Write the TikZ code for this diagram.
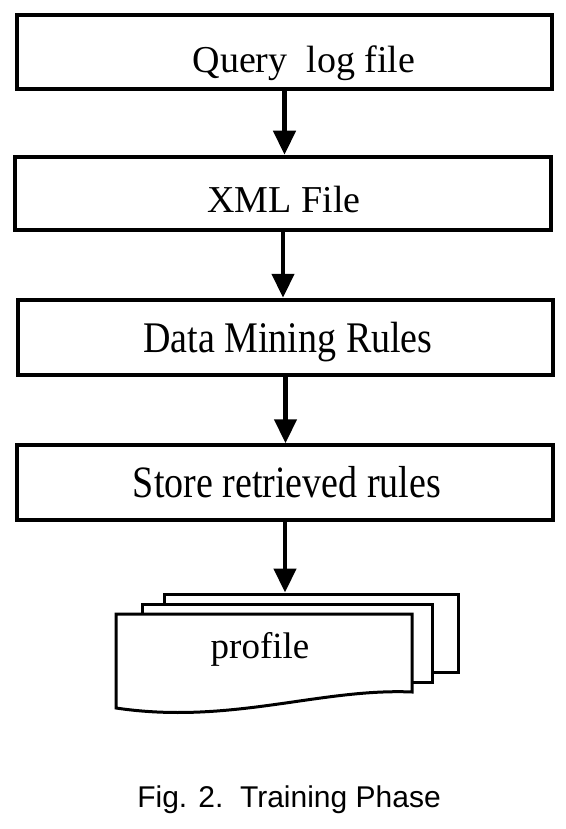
\documentclass[tikz,border=0pt]{standalone}
\usepackage{graphicx}
\usepackage{fontspec}
\setmainfont{Liberation Serif}
\newfontfamily\capfont{Liberation Sans}
\usetikzlibrary{arrows.meta}
\tikzset{
  stepbox/.style={draw=black, line width=4.5pt, fill=white, rectangle, inner sep=0pt},
  boxtext/.style={anchor=base, inner sep=0pt, font=\fontsize{38}{40}\selectfont},
  doc/.style={draw=black, line width=3pt, fill=white, rectangle, inner sep=0pt},
  arr/.style={line width=4.5pt, -{Triangle[width=22pt,length=24pt]}}
}
\begin{document}
\begin{tikzpicture}[x=1pt,y=-1pt]
\useasboundingbox[fill=white] (0,0) rectangle (565,829);
% process boxes
\node[stepbox, minimum width=535pt, minimum height=74pt] (b1) at (284.5,52) {};
\node[stepbox, minimum width=536pt, minimum height=73pt] (b2) at (283,193.5) {};
\node[stepbox, minimum width=535pt, minimum height=75pt] (b3) at (285.5,337.5) {};
\node[stepbox, line width=3.5pt, minimum width=536pt, minimum height=75pt] (b4) at (285,482.5) {};
\node[boxtext] (t1) at (304,73) {Query~ log file};
\node[boxtext] (t2) at (284,212) {XML File};
\node[boxtext] (t3) at (288,352) {\scalebox{1}[1.15]{Data Mining Rules}};
\node[boxtext] (t4) at (287,497) {\scalebox{1}[1.18]{Store retrieved rules}};
% document stack
\node[doc, minimum width=294pt, minimum height=78pt] (back) at (311,633) {};
\node[doc, minimum width=290pt, minimum height=78pt] (mid) at (287,643) {};
\coordinate (ftl) at (116,614);
\coordinate (ftr) at (412,614);
\coordinate (fbr) at (412,692);
\coordinate (fbl) at (116,708);
\filldraw[line width=3pt, fill=white, line join=miter] (fbl) -- (ftl) -- (ftr) -- (fbr)
  .. controls (320,688) and (230,725) .. (fbl) -- cycle;
\node[boxtext, font=\fontsize{37}{40}\selectfont] (t5) at (260,658) {profile};
% connectors
\draw[arr] (b1.south) -- (b1.south |- b2.north);
\draw[arr] (b2.south) -- (b2.south |- b3.north);
\draw[arr] (b3.south) -- (b3.south |- b4.north);
\draw[arr] (b4.south) -- (b4.south |- back.north);
% caption
\node[anchor=base, inner sep=0pt, font=\capfont\fontsize{30}{34}\selectfont] (cap) at (289,807) {Fig. 2.\ \ Training Phase};
\end{tikzpicture}
\end{document}
